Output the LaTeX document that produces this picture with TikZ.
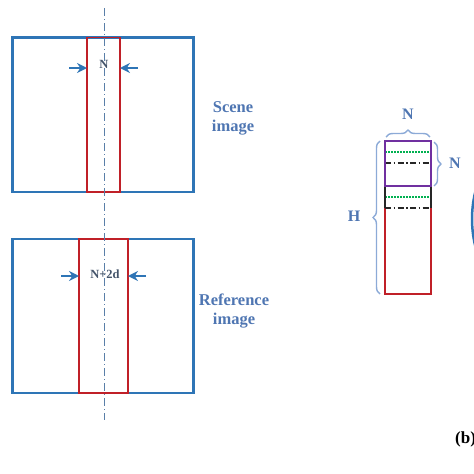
\documentclass[tikz,border=0pt]{standalone}
\usepackage{fontspec}
\setmainfont{Liberation Serif}
\usetikzlibrary{arrows.meta,decorations.pathreplacing}
\definecolor{boxblue}{RGB}{46,117,182}
\definecolor{stripred}{RGB}{192,32,40}
\definecolor{labblue}{RGB}{79,118,178}
\definecolor{darklab}{RGB}{68,84,106}
\definecolor{bracecol}{RGB}{140,170,215}
\definecolor{axiscol}{RGB}{90,127,168}
\definecolor{purp}{RGB}{112,48,160}
\definecolor{grn}{RGB}{0,176,80}
\tikzset{
  imgbox/.style={draw=boxblue,line width=2.3pt},
  stripbox/.style={draw=stripred,line width=1.8pt},
  axisline/.style={draw=axiscol,line width=1pt,dash pattern=on 8pt off 3pt on 1pt off 3pt},
  pinarrow/.style={draw=boxblue,line width=2pt,-{Stealth[length=10pt,width=10pt]}},
  sidelab/.style={text=labblue,font=\bfseries\fontsize{16.5}{19}\selectfont,align=center},
  inlab/.style={text=darklab,font=\bfseries\fontsize{12.5}{14}\selectfont,inner sep=1pt},
  bracelab/.style={text=labblue,font=\bfseries\fontsize{16}{18}\selectfont},
  bracestyle/.style={draw=bracecol,line width=1.4pt,decorate,decoration={brace,amplitude=7pt}},
}
\begin{document}
\begin{tikzpicture}[x=1pt,y=-1pt]
\useasboundingbox (0,0) rectangle (474,474);
\begin{scope}
\clip (0,0) rectangle (474,474);
% ---- left: scene image ----
\draw[imgbox] (12.5,37.5) rectangle (193.5,192);
\draw[stripbox] (87,37.5) rectangle (120,192);
% ---- left: reference image ----
\draw[imgbox] (12.5,239) rectangle (193.5,393);
\draw[stripbox] (79,239) rectangle (128,393);
% centre axis
\coordinate (axtop) at (104,8);
\coordinate (axbot) at (104,420);
\draw[axisline] (axtop) -- (axbot);
% arrows top
\coordinate (a1s) at (69,68);
\coordinate (a1e) at (87,68);
\coordinate (a2s) at (138,68);
\coordinate (a2e) at (120,68);
\draw[pinarrow] (a1s) -- (a1e);
\draw[pinarrow] (a2s) -- (a2e);
\node[inlab] (nlab) at (104,64) {N};
% arrows bottom
\coordinate (b1s) at (61,276);
\coordinate (b1e) at (79,276);
\coordinate (b2s) at (146,276);
\coordinate (b2e) at (128,276);
\draw[pinarrow] (b1s) -- (b1e);
\draw[pinarrow] (b2s) -- (b2e);
\node[inlab] (n2dlab) at (105,274) {N+2d};
% side labels
\node[sidelab] (scene) at (233,118) {Scene\\image};
\node[sidelab] (refimg) at (234,311) {Reference\\image};
% ---- right strip ----
\draw[stripbox] (385,141) rectangle (431,294);
\draw[draw=grn,line width=1.4pt,dash pattern=on 1.5pt off 1.5pt] (385,152) -- (431,152);
\draw[draw=grn,line width=1.4pt,dash pattern=on 1.5pt off 1.5pt] (385,197) -- (431,197);
\draw[draw=black!85,line width=1.6pt,dash pattern=on 6pt off 2.5pt on 1.5pt off 2.5pt] (385,163) -- (431,163);
\draw[draw=black!85,line width=1.6pt,dash pattern=on 6pt off 2.5pt on 1.5pt off 2.5pt] (385,208) -- (431,208);
\draw[draw=black!85,line width=1.8pt] (385,186) -- (385,208);
\draw[draw=black!85,line width=1.8pt] (431,186) -- (431,208);
\draw[draw=purp,line width=1.8pt] (385,141) rectangle (431,186);
% braces
\coordinate (tb1) at (386,137);
\coordinate (tb2) at (430,137);
\draw[bracestyle] (tb1) -- (tb2);
\node[bracelab] (ntop) at (408,114) {N};
\coordinate (rb1) at (434,142);
\coordinate (rb2) at (434,186);
\draw[bracestyle] (rb1) -- (rb2);
\node[bracelab] (nright) at (455,163) {N};
\coordinate (lb1) at (380,294);
\coordinate (lb2) at (380,141);
\draw[bracestyle] (lb1) -- (lb2);
\node[bracelab] (hlab) at (354,216) {H};
% partial circle at right edge
\draw[draw=boxblue,line width=2.5pt] (585,219) circle (113);
% caption
\node[anchor=west,font=\bfseries\fontsize{17}{19}\selectfont,inner sep=0pt] (cap) at (455,439) {(b)};
\end{scope}
\end{tikzpicture}
\end{document}
